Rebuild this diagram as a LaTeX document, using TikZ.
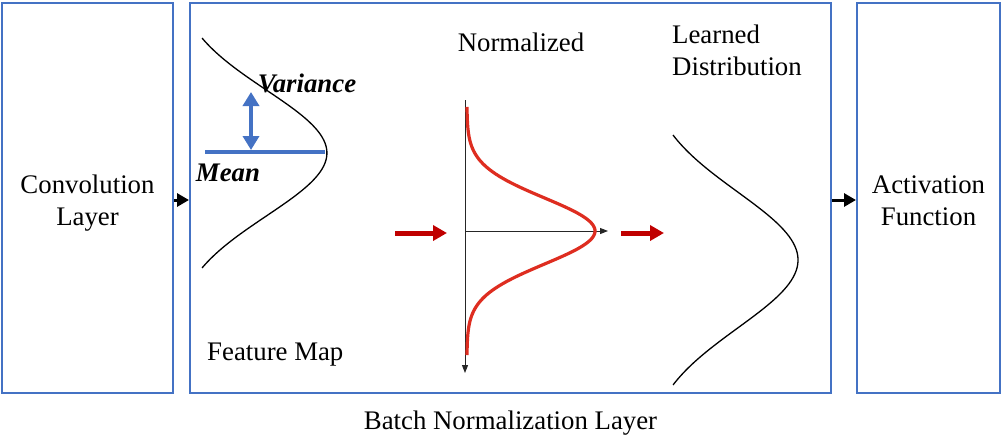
\documentclass[tikz,border=0pt]{standalone}
\usepackage{fontspec}
\setmainfont{Liberation Serif}
\usetikzlibrary{arrows.meta}
\definecolor{boxblue}{RGB}{68,114,196}
\definecolor{curvered}{RGB}{222,45,32}
\definecolor{arrowred}{RGB}{192,0,0}
\begin{document}
\begin{tikzpicture}[x=1pt,y=-1pt,
  every node/.style={font=\fontsize{26.8}{32}\selectfont},
  layerbox/.style={draw=boxblue,line width=2pt,inner sep=0pt,align=center},
  lbl/.style={inner sep=0pt},
  bolditl/.style={inner sep=0pt,font=\fontsize{26.8}{32}\selectfont\bfseries\itshape},
  boxarrow/.style={-{Triangle[length=12pt,width=13pt]},line width=3pt,black},
  redarrow/.style={-{Triangle[length=14pt,width=15pt]},line width=5pt,arrowred},
  axisline/.style={-{Triangle[length=8pt,width=6pt]},line width=1pt,black!85},
  bellcurve/.style={line width=1.3pt,black},
  redcurve/.style={line width=3.2pt,curvered},
  bluemark/.style={line width=4pt,boxblue}
]
\useasboundingbox (0,0) rectangle (1002,440);

% boxes
\node[layerbox,minimum width=171pt,minimum height=390pt] (conv) at (87.5,198) {};
\node[layerbox,minimum width=641pt,minimum height=390pt] (bn) at (510.5,198) {};
\node[layerbox,minimum width=143pt,minimum height=390pt] (act) at (928.5,198) {};

\node[lbl,align=center] (convtxt) at (87.5,203) {Convolution\\Layer};
\node[lbl,align=center] (acttxt) at (928.5,201) {Activation\\Function};
\node[lbl] (bntxt) at (510.5,423) {Batch Normalization Layer};

% arrows between boxes
\coordinate (c1) at (conv.east |- 0,200);
\coordinate (b1) at (bn.west |- 0,200);
\coordinate (b2) at (bn.east |- 0,200);
\coordinate (a1) at (act.west |- 0,200);
\draw[boxarrow] (c1) -- (b1);
\draw[boxarrow] (b2) -- (a1);

% feature map curve
\draw[bellcurve] plot[domain=-1.825:1.825,samples=80,smooth] ({172.9+154*exp(-\x*\x/2)},{153+63*\x});
\coordinate (meanL) at (205,152);
\coordinate (meanR) at (325,152);
\draw[bluemark] (meanL) -- (meanR);
\coordinate (varT) at (251,92);
\coordinate (varB) at (251,150);
\draw[bluemark,{Triangle[length=14pt,width=16pt]}-{Triangle[length=14pt,width=16pt]}] (varT) -- (varB);
\node[bolditl] (variance) at (307,83) {Variance};
\node[bolditl] (mean) at (228,173) {Mean};
\node[lbl,anchor=west] (feat) at (207,355) {Feature Map};

% normalized plot
\node[lbl] (normtxt) at (521,42) {Normalized};
\coordinate (vtop) at (465,100);
\coordinate (vbot) at (465,373);
\coordinate (horg) at (465,231);
\coordinate (hend) at (608,231);
\draw[axisline] (vtop) -- (vbot);
\draw[axisline] (horg) -- (hend);
\draw[redcurve] plot[domain=-3.758:3.758,samples=120,smooth] ({466.9+128.1*exp(-\x*\x/2)},{231+33*\x});

% red arrows
\coordinate (r1s) at (395,233);
\coordinate (r1e) at (447,233);
\coordinate (r2s) at (621,233);
\coordinate (r2e) at (664,233);
\draw[redarrow] (r1s) -- (r1e);
\draw[redarrow] (r2s) -- (r2e);

% learned distribution
\node[lbl,anchor=west,align=left] (learned) at (672,50) {Learned\\Distribution};
\draw[bellcurve] plot[domain=-1.838:1.838,samples=80,smooth] ({644.7+153.3*exp(-\x*\x/2)},{260+68*\x});
\end{tikzpicture}
\end{document}
